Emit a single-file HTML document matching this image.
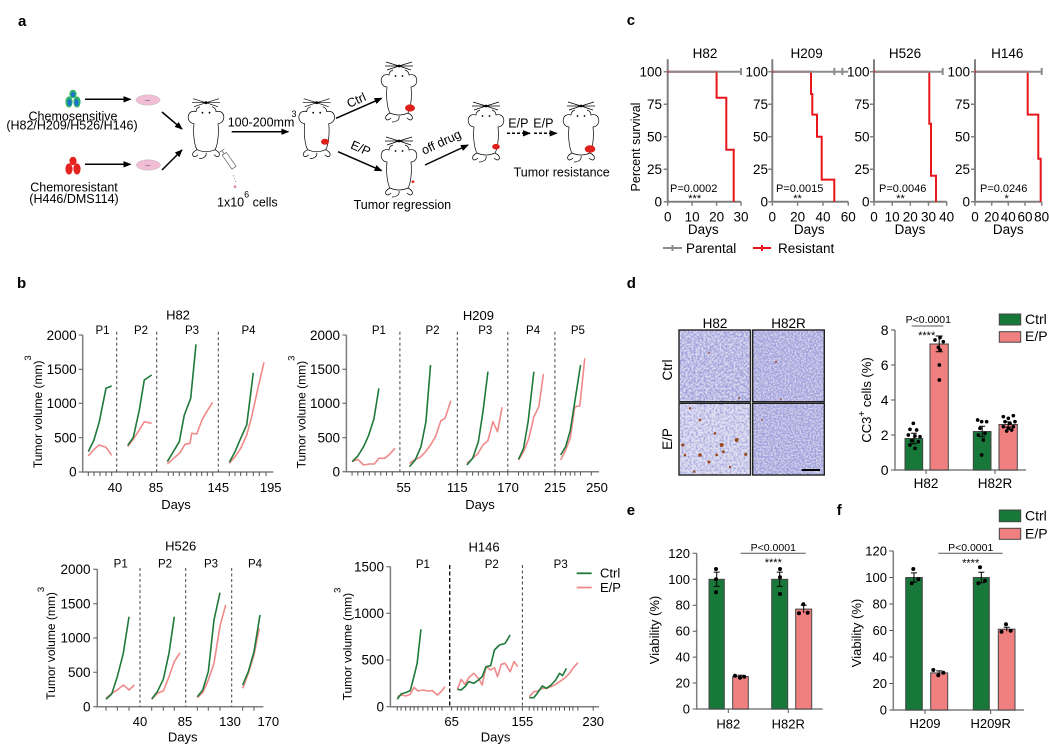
<!DOCTYPE html>
<html><head><meta charset="utf-8">
<style>
html,body{margin:0;padding:0;background:#fff;}
svg{display:block;font-family:"Liberation Sans",Arial,sans-serif;}
.ns *{vector-effect:non-scaling-stroke;}
.g{stroke:#1f7a3a;fill:none;stroke-width:1.6;stroke-linejoin:round}
.p{stroke:#f08a8a;fill:none;stroke-width:1.6;stroke-linejoin:round}
.ax{stroke:#7f7f7f;stroke-width:1.5;fill:none}
.cax{stroke:#808080;stroke-width:2;fill:none}
.tk{stroke:#555;stroke-width:1;fill:none}
.dash{stroke:#444;stroke-width:1;stroke-dasharray:3,2.5;fill:none}
.bar{stroke:#444;stroke-width:1}
.gr{fill:#18783a}
.pk{fill:#f08080}
.eb{stroke:#000;stroke-width:1;fill:none}
.m{fill:none;stroke:#000;stroke-width:0.7}
</style></head><body>
<svg width="1049" height="750" viewBox="0 0 1049 750">
<defs>
<marker id="ah" markerWidth="8" markerHeight="8" refX="7" refY="4" orient="auto" markerUnits="userSpaceOnUse"><path d="M0,0.8 L8,4 L0,7.2 Z" fill="#000"/></marker>
<g id="mouse">
 <path class="m" d="M0,0 L-13,-4 M0,0 L-14,0 M0,0 L-12,4 M0,0 L13,-4 M0,0 L14,0 M0,0 L12,4"/>
 <path class="m" d="M-6,4 C-9,5 -10,7 -10,9 C-19,6 -21,20 -12,21 C-13,30 -12,42 -9,47 Q0,51 9,47 C12,42 13,30 12,21 C21,20 19,6 10,9 C10,7 9,5 6,4"/>
 <path class="m" d="M-9,47 c-4,2 -6,5 -3,7 c2,0 3,-1 4,-2 M9,47 c4,2 6,5 3,7 c-2,0 -3,-1 -4,-2 M0,50 c1,4 -3,6 -7,6"/>
 <circle cx="0" cy="0" r="1.4" fill="#000"/>
 <circle cx="-3.5" cy="10" r="0.9" fill="#000"/>
 <circle cx="3.5" cy="10" r="0.9" fill="#000"/>
</g>
<filter id="tx1" x="0" y="0" width="1" height="1"><feTurbulence type="fractalNoise" baseFrequency="0.5" numOctaves="2" seed="4"/><feColorMatrix type="matrix" values="0 0 0 0 0.36  0 0 0 0 0.36  0 0 0 0 0.72  4.2 0 0 0 -1.6"/></filter>
<filter id="tx2" x="0" y="0" width="1" height="1"><feTurbulence type="fractalNoise" baseFrequency="0.6" numOctaves="2" seed="9"/><feColorMatrix type="matrix" values="0 0 0 0 0.36  0 0 0 0 0.36  0 0 0 0 0.72  4.4 0 0 0 -1.6"/></filter>
<filter id="tx3" x="0" y="0" width="1" height="1"><feTurbulence type="fractalNoise" baseFrequency="0.5" numOctaves="2" seed="17"/><feColorMatrix type="matrix" values="0 0 0 0 0.40  0 0 0 0 0.40  0 0 0 0 0.74  3.6 0 0 0 -1.5"/></filter>
<filter id="tx4" x="0" y="0" width="1" height="1"><feTurbulence type="fractalNoise" baseFrequency="0.6" numOctaves="2" seed="23"/><feColorMatrix type="matrix" values="0 0 0 0 0.36  0 0 0 0 0.36  0 0 0 0 0.72  4.4 0 0 0 -1.6"/></filter>
</defs>

<!-- ================= Panel a ================= -->
<text x="18" y="26" font-size="15" font-weight="bold">a</text>
<ellipse cx="73" cy="94" rx="3.6" ry="4.2" fill="#2db36b"/>
<ellipse cx="69" cy="102" rx="3.6" ry="5.6" fill="#2db36b"/>
<ellipse cx="77" cy="102" rx="3.6" ry="5.6" fill="#2db36b"/>
<ellipse cx="73" cy="94.5" rx="2" ry="2.5" fill="#1f6fd0"/>
<ellipse cx="69.5" cy="102.5" rx="2" ry="3.5" fill="#1f6fd0"/>
<ellipse cx="76.5" cy="102.5" rx="2" ry="3.5" fill="#1f6fd0"/>
<ellipse cx="73" cy="161" rx="3.6" ry="4.2" fill="#e5231f"/>
<ellipse cx="69" cy="169" rx="3.6" ry="5.6" fill="#e5231f"/>
<ellipse cx="77" cy="169" rx="3.6" ry="5.6" fill="#e5231f"/>
<text x="73" y="120.5" font-size="12.5" text-anchor="middle">Chemosensitive</text>
<text x="72" y="129.5" font-size="12.5" text-anchor="middle">(H82/H209/H526/H146)</text>
<text x="74" y="191.5" font-size="12.5" text-anchor="middle">Chemoresistant</text>
<text x="74" y="203" font-size="12.5" text-anchor="middle">(H446/DMS114)</text>
<g stroke="#000" stroke-width="1.5" fill="none" marker-end="url(#ah)">
<path d="M85,99.3 H130.5"/>
<path d="M85,164.3 H130.5"/>
<path d="M162,170 L182,150"/>
<path d="M162,112 L182,129"/>
<path d="M231.7,131.7 H288.3"/>
<path d="M336,118.3 L381.6,98.3"/>
<path d="M338,151.7 L381.6,170.7"/>
<path d="M425,165 L468,145"/>
</g>
<g stroke="#000" stroke-width="1.5" fill="none" stroke-dasharray="3,2" marker-end="url(#ah)">
<path d="M507,133.3 H530"/>
<path d="M534,133.3 H556.7"/>
</g>
<ellipse cx="148" cy="100" rx="12" ry="5.2" fill="#f1bdd4" stroke="#999" stroke-width="0.5" stroke-dasharray="1.5,1"/>
<path d="M145,100.5 h5" stroke="#666" stroke-width="0.6"/>
<ellipse cx="148.3" cy="165" rx="12" ry="5.2" fill="#f1bdd4" stroke="#999" stroke-width="0.5" stroke-dasharray="1.5,1"/>
<path d="M145.3,165.5 h5" stroke="#666" stroke-width="0.6"/>
<use href="#mouse" x="206" y="102.7"/>
<use href="#mouse" x="316.7" y="102.7"/>
<use href="#mouse" x="399" y="66"/>
<use href="#mouse" x="399" y="141"/>
<use href="#mouse" x="486" y="106"/>
<use href="#mouse" x="581" y="106"/>
<ellipse cx="325" cy="141.7" rx="4" ry="3" fill="#e0201a"/>
<ellipse cx="410" cy="108" rx="5" ry="3.6" fill="#e0201a"/>
<ellipse cx="413" cy="181.7" rx="1.5" ry="1.2" fill="#e0201a"/>
<ellipse cx="496" cy="146.7" rx="3.8" ry="2.8" fill="#e0201a"/>
<ellipse cx="590" cy="149" rx="5.3" ry="3.8" fill="#e0201a"/>
<g transform="translate(230,162) rotate(-35)">
<rect x="-2.5" y="-10" width="5" height="17" fill="none" stroke="#444" stroke-width="0.6"/>
<path d="M0,-10 v-4 M-3,-14 h6" stroke="#444" stroke-width="0.6"/>
</g>
<path d="M233,175 L236,183" stroke="#777" stroke-width="0.6" stroke-dasharray="1.5,1.5"/>
<circle cx="235" cy="186.7" r="1.4" fill="#e08aaa"/>
<text x="227.7" y="126.5" font-size="12.5">100-200mm</text>
<text x="291.5" y="117" font-size="9">3</text>
<text x="217" y="206.5" font-size="12.5">1x10<tspan dy="-9" font-size="9">6</tspan><tspan dy="9"> cells</tspan></text>
<text transform="translate(358,104) rotate(-24)" font-size="12.5" text-anchor="middle">Ctrl</text>
<text transform="translate(359,152) rotate(23.5)" font-size="12.5" text-anchor="middle">E/P</text>
<text transform="translate(443,146) rotate(-25)" font-size="12.5" text-anchor="middle">off drug</text>
<text x="402.4" y="209" font-size="12.5" text-anchor="middle">Tumor regression</text>
<text x="508.3" y="127.5" font-size="12.5">E/P</text>
<text x="533.3" y="127.5" font-size="12.5">E/P</text>
<text x="561.7" y="176.7" font-size="12.5" text-anchor="middle">Tumor resistance</text>

<!-- ================= Panel b ================= -->
<text x="17" y="288" font-size="15" font-weight="bold">b</text>

<!-- H82 -->
<text x="178" y="319.5" font-size="13" text-anchor="middle">H82</text>
<g font-size="11.5" text-anchor="middle">
<text x="102.5" y="334">P1</text><text x="141" y="334">P2</text><text x="192" y="334">P3</text><text x="248.5" y="334">P4</text>
</g>
<path class="ax" d="M82.7,335 V472 H273.3"/>
<path class="tk" d="M78.7,335h4M78.7,369.3h4M78.7,403.3h4M78.7,437.7h4M78.7,472h4"/>
<path class="tk" d="M88.3,472v4M94,472v4M100,472v4M106,472v4M111.7,472v4M127.7,472v4M133.3,472v4M139.3,472v4M145,472v4M151.7,472v4M168.3,472v4M173.3,472v4M179.3,472v4M185,472v4M190.7,472v4M196.7,472v4M201.7,472v4M207.3,472v4M212.7,472v4M229.3,472v4M235,472v4M240.7,472v4M246.7,472v4M253.3,472v4M259.3,472v4M266,472v4"/>
<g font-size="13.5" text-anchor="end">
<text x="76.7" y="339.8">2000</text><text x="76.7" y="374">1500</text><text x="76.7" y="408">1000</text><text x="76.7" y="442.4">500</text><text x="76.7" y="476.7">0</text>
</g>
<g font-size="13" text-anchor="middle">
<text x="115" y="492">40</text><text x="156" y="492">85</text><text x="218.3" y="492">145</text><text x="270.7" y="492">195</text>
<text x="176" y="509">Days</text>
</g>
<text transform="translate(42,411.7) rotate(-90)" font-size="12" text-anchor="middle">Tumor volume (mm)<tspan dy="-11" font-size="9.5">3</tspan></text>
<path class="dash" d="M116.7,331.7V472M156.7,331.7V472M218.3,331.7V472"/>
<polyline class="p" points="88.3,456 94,449.3 99.3,445 106,447.3 111.7,455.3"/>
<polyline class="g" points="88.3,451.7 94,440 99.3,421.7 106,388.3 111.7,386"/>
<polyline class="p" points="127.7,446.7 133.3,439.3 139.3,430 144.3,421.7 151.7,423.3"/>
<polyline class="g" points="127.7,445.3 133.3,437.3 139.3,410 144.3,380 151.7,375"/>
<polyline class="p" points="167.3,464 173.3,458.7 180,452.7 185,444.3 190,443.3 191.7,433.3 196.7,434 202.3,419.3 207.3,410.7 212.7,402.3"/>
<polyline class="g" points="167.3,461.7 173.3,451.7 179.3,441.7 184.3,415 190.7,398.3 196,344.3"/>
<polyline class="p" points="229.3,463.3 235,456.7 240.7,448.3 246.7,435 251.7,416.7 258.3,386.7 264,362.3"/>
<polyline class="g" points="229.3,462.3 235,451.7 240.7,438.3 246.7,425 253.3,372.7"/>

<!-- H209 -->
<text x="478.4" y="320" font-size="13" text-anchor="middle">H209</text>
<g font-size="11.5" text-anchor="middle">
<text x="378.9" y="334">P1</text><text x="432.5" y="334">P2</text><text x="485.3" y="334">P3</text><text x="533.1" y="334">P4</text><text x="577.9" y="334">P5</text>
</g>
<path class="ax" d="M346.4,335 V471.7 H599"/>
<path class="tk" d="M342.4,335h4M342.4,369.3h4M342.4,403.3h4M342.4,437.7h4M342.4,471.7h4"/>
<g font-size="13.5" text-anchor="end">
<text x="340" y="339.8">2000</text><text x="340" y="374">1500</text><text x="340" y="408">1000</text><text x="340" y="442.4">500</text><text x="340" y="476.4">0</text>
</g>
<g font-size="13" text-anchor="middle">
<text x="403.7" y="492">55</text><text x="457.3" y="492">115</text><text x="508" y="492">170</text><text x="555" y="492">215</text><text x="597" y="492">250</text>
<text x="480" y="509">Days</text>
</g>
<text transform="translate(305.5,412) rotate(-90)" font-size="12" text-anchor="middle">Tumor volume (mm)<tspan dy="-11" font-size="9.5">3</tspan></text>
<path class="dash" d="M399.9,331.7V471.7M457.3,331.7V471.7M507.8,331.7V471.7M554.9,331.7V471.7"/>

<g class="ns" transform="translate(0,270) scale(0.3827,0.33333)">
<path class="tk" d="M920,605v12M935,605v12M950,605v12M965,605v12M980,605v12M995,605v12M1010,605v12M1025,605v12M1055,605v12M1070,605v12M1085,605v12M1100,605v12M1113,605v12M1125,605v12M1140,605v12M1155,605v12M1170,605v12M1195,605v12M1220,605v12M1235,605v12M1250,605v12M1262,605v12M1275,605v12M1290,605v12M1305,605v12M1327,605v12M1355,605v12M1368,605v12M1380,605v12M1395,605v12M1408,605v12M1420,605v12M1450,605v12M1465,605v12M1478,605v12M1490,605v12M1502,605v12M1517,605v12M1545,605v12"/>
<polyline class="p" points="920,575 935,568 950,585 965,582 978,582 990,565 1005,565 1018,553 1032,535"/>
<polyline class="g" points="920,575 935,558 950,530 963,497 977,447 990,355"/>
<polyline class="p" points="1070,580 1085,568 1098,562 1112,545 1125,525 1138,500 1152,452 1163,445 1178,392"/>
<polyline class="g" points="1070,590 1085,570 1100,530 1113,455 1125,285"/>
<polyline class="p" points="1220,580 1235,565 1248,552 1262,525 1275,512 1288,455 1300,485 1312,412"/>
<polyline class="g" points="1220,585 1235,565 1250,515 1262,425 1275,305"/>
<polyline class="p" points="1355,570 1368,545 1382,505 1395,440 1408,410 1420,312"/>
<polyline class="g" points="1355,568 1368,535 1380,455 1395,305"/>
<polyline class="p" points="1465,570 1478,540 1490,505 1502,410 1515,408 1528,265"/>
<polyline class="g" points="1465,555 1478,530 1490,482 1502,395 1517,285"/>
</g>

<!-- H526 -->
<text x="180.7" y="550.7" font-size="13" text-anchor="middle">H526</text>
<g font-size="11.5" text-anchor="middle">
<text x="120.7" y="567.3">P1</text><text x="165" y="567.3">P2</text><text x="211" y="567.3">P3</text><text x="255" y="567.3">P4</text>
</g>
<path class="ax" d="M97.3,569.3 V706.7 H263.3"/>
<path class="tk" d="M93.3,569.3h4M93.3,603.7h4M93.3,638h4M93.3,672.3h4M93.3,706.7h4"/>
<path class="tk" d="M106,706.7v4M117.3,706.7v4M129,706.7v4M151.7,706.7v4M163.3,706.7v4M174.3,706.7v4M197.3,706.7v4M208.3,706.7v4M220,706.7v4M242.7,706.7v4M254,706.7v4"/>
<g font-size="13.5" text-anchor="end">
<text x="90.5" y="574">2000</text><text x="90.5" y="608.4">1500</text><text x="90.5" y="642.7">1000</text><text x="90.5" y="677">500</text><text x="90.5" y="711.4">0</text>
</g>
<g font-size="13" text-anchor="middle">
<text x="140" y="726">40</text><text x="185" y="726">85</text><text x="230" y="726">130</text><text x="268.3" y="726">170</text>
<text x="182.7" y="741.5">Days</text>
</g>
<text transform="translate(55,643.3) rotate(-90)" font-size="12" text-anchor="middle">Tumor volume (mm)<tspan dy="-11" font-size="9.5">3</tspan></text>
<path class="dash" d="M140,568V706.7M185.7,568V706.7M231.7,568V706.7"/>
<polyline class="p" points="106,698.3 111.7,693.3 117.3,690 123.3,685 129,690 134.3,685"/>
<polyline class="g" points="106,699.3 111.7,694 117.3,676.7 123.3,653.3 129,616.7"/>
<polyline class="p" points="151.7,699.3 157.3,693.3 163.3,691 169,676.7 174.3,661.7 180,652.7"/>
<polyline class="g" points="151.7,699 157.3,691.7 163.3,679.3 169,653.3 174.3,616.7"/>
<polyline class="p" points="197.3,697.7 202.7,692.7 208.3,680 214,663.3 220,626 225.7,605"/>
<polyline class="g" points="197.3,696.7 202.7,690 208.3,671.7 214,620 220,592.7"/>
<polyline class="p" points="242.7,688.3 248.3,673.3 254,655 259.3,628.3"/>
<polyline class="g" points="242.7,685 248.3,671.7 254,651.7 260,615"/>

<!-- H146 -->
<text x="484.1" y="551.5" font-size="13" text-anchor="middle">H146</text>
<g font-size="11.5" text-anchor="middle">
<text x="422.9" y="568">P1</text><text x="491.8" y="568">P2</text><text x="560.7" y="568">P3</text>
</g>
<path class="ax" d="M390.4,566.7 V706.7 H599"/>
<path class="tk" d="M386.4,566.7h4M386.4,613.3h4M386.4,660h4M386.4,706.7h4"/>
<g font-size="13.5" text-anchor="end">
<text x="384" y="571.4">1500</text><text x="384" y="618">1000</text><text x="384" y="664.7">500</text><text x="384" y="711.4">0</text>
</g>
<g font-size="13" text-anchor="middle">
<text x="451.6" y="726">65</text><text x="522.4" y="726">155</text><text x="593.2" y="726">230</text>
<text x="495.6" y="741.5">Days</text>
</g>
<text transform="translate(351.5,644) rotate(-90)" font-size="12" text-anchor="middle">Tumor volume (mm)<tspan dy="-11" font-size="9.5">3</tspan></text>
<path d="M449.7,565V706.7" stroke="#000" stroke-width="1.3" stroke-dasharray="4,2.5"/>
<path class="dash" d="M522.4,565V706.7"/>

<g class="ns" transform="translate(0,500) scale(0.3827,0.33333)">
<path class="tk" d="M1038,620v12M1048,620v12M1060,620v12M1072,620v12M1082,620v12M1092,620v12M1105,620v12M1118,620v12M1130,620v12M1143,620v12M1155,620v12M1180,620v12M1195,620v12M1205,620v12M1215,620v12M1225,620v12M1238,620v12M1250,620v12M1260,620v12M1270,620v12M1282,620v12M1292,620v12M1305,620v12M1320,620v12M1333,620v12M1343,620v12M1365,620v12M1383,620v12M1395,620v12M1405,620v12M1417,620v12M1428,620v12M1440,620v12M1452,620v12M1462,620v12M1475,620v12M1488,620v12M1497,620v12M1510,620v12M1550,620v12"/>
<polyline class="p" points="1038,590 1048,585 1060,588 1072,583 1082,562 1092,573 1105,570 1118,573 1130,572 1143,585 1155,572 1163,560"/>
<polyline class="g" points="1038,598 1048,582 1060,578 1072,572 1082,528 1090,490 1100,388"/>
<polyline class="p" points="1195,568 1205,538 1215,553 1225,533 1238,520 1250,535 1260,555 1270,500 1282,510 1292,503 1300,530 1310,493 1320,490 1333,515 1343,485 1353,500"/>
<polyline class="g" points="1195,568 1205,570 1215,560 1225,545 1238,550 1250,540 1260,530 1270,500 1282,497 1292,450 1305,435 1320,430 1333,405"/>
<polyline class="p" points="1383,590 1395,575 1405,573 1417,565 1428,565 1440,560 1452,553 1462,545 1475,535 1488,520 1497,505 1510,488"/>
<polyline class="g" points="1383,593 1395,593 1405,578 1417,558 1428,565 1440,555 1452,540 1462,520 1470,527 1480,505"/>
</g>
<path d="M576.7,573.3H591.7" stroke="#1f7a3a" stroke-width="1.8"/>
<path d="M576.7,587.5H591.7" stroke="#f08a8a" stroke-width="1.8"/>
<text x="600" y="577.5" font-size="13">Ctrl</text>
<text x="600" y="592" font-size="13">E/P</text>

<!-- ================= Panel c ================= -->
<text x="626.7" y="25" font-size="15" font-weight="bold">c</text>
<g font-size="13.5" text-anchor="middle">
<text x="705" y="58">H82</text><text x="806.7" y="58">H209</text><text x="905" y="58">H526</text><text x="1007.3" y="58">H146</text>
</g>
<text transform="translate(640,147) rotate(-90)" font-size="12.5" text-anchor="middle">Percent survival</text>
<path class="cax" d="M667.7,59.3V201.7H741"/>
<path class="cax" d="M772.3,59.3V201.7H848.3"/>
<path class="cax" d="M874,59.3V201.7H946.7"/>
<path class="cax" d="M975,59.3V201.7H1041.7"/>
<g stroke="#808080" stroke-width="1.5">
<path d="M663.7,201.7h4M663.7,169.2h4M663.7,136.7h4M663.7,104.2h4M663.7,71.7h4 M667.7,201.7v4M692.1,201.7v4M716.6,201.7v4M741,201.7v4"/>
<path d="M768.3,201.7h4M768.3,169.2h4M768.3,136.7h4M768.3,104.2h4M768.3,71.7h4 M772.3,201.7v4M797.6,201.7v4M823,201.7v4M848.3,201.7v4"/>
<path d="M870,201.7h4M870,169.2h4M870,136.7h4M870,104.2h4M870,71.7h4 M874,201.7v4M892.2,201.7v4M910.3,201.7v4M928.5,201.7v4M946.7,201.7v4"/>
<path d="M971,201.7h4M971,169.2h4M971,136.7h4M971,104.2h4M971,71.7h4 M975,201.7v4M991.7,201.7v4M1008.3,201.7v4M1025,201.7v4M1041.7,201.7v4"/>
</g>
<g font-size="13.5" text-anchor="end">
<text x="662" y="206.5">0</text><text x="662" y="174">25</text><text x="662" y="141.5">50</text><text x="662" y="109">75</text><text x="662" y="76.5">100</text>
<text x="768" y="206.5">0</text><text x="768" y="174">25</text><text x="768" y="141.5">50</text><text x="768" y="109">75</text><text x="768" y="76.5">100</text>
<text x="869.5" y="206.5">0</text><text x="869.5" y="174">25</text><text x="869.5" y="141.5">50</text><text x="869.5" y="109">75</text><text x="869.5" y="76.5">100</text>
<text x="970" y="206.5">0</text><text x="970" y="174">25</text><text x="970" y="141.5">50</text><text x="970" y="109">75</text><text x="970" y="76.5">100</text>
</g>
<g font-size="13.5" text-anchor="middle">
<text x="667.7" y="221.5">0</text><text x="692.1" y="221.5">10</text><text x="716.6" y="221.5">20</text><text x="741" y="221.5">30</text>
<text x="772.3" y="221.5">0</text><text x="797.6" y="221.5">20</text><text x="823" y="221.5">40</text><text x="848.3" y="221.5">60</text>
<text x="874" y="221.5">0</text><text x="892.2" y="221.5">10</text><text x="910.3" y="221.5">20</text><text x="928.5" y="221.5">30</text><text x="946.7" y="221.5">40</text>
<text x="975" y="221.5">0</text><text x="991.7" y="221.5">20</text><text x="1008.3" y="221.5">40</text><text x="1025" y="221.5">60</text><text x="1041.7" y="221.5">80</text>
<text x="703.3" y="234">Days</text><text x="809.3" y="234">Days</text><text x="910" y="234">Days</text><text x="1008.3" y="234">Days</text>
</g>
<g fill="none" stroke="#e8161b" stroke-width="2">
<path d="M667.7,71.7H716.6V97.7H726.3V149.7H733.7V201.7"/>
<path d="M772.3,71.7H811V94H812.3V114.6H817V136.7H821.7V179.6H834.3V201.7"/>
<path d="M874,71.7H929.3V123.7H931V175.7H936V201.7"/>
<path d="M975,71.7H1027.7V114.6H1038.3V158.8H1040.7V201.7"/>
</g>
<g fill="none" stroke="#8c8c8c" stroke-width="2">
<path d="M668.7,71.7H716M716.6,71.7H741 M741,68v7"/>
<path d="M773.3,71.7H848.3 M834.3,68v7 M842.3,68v7"/>
<path d="M875,71.7H942.7 M942.7,68v7"/>
<path d="M976,71.7H1041.7 M1041.7,68v7"/>
</g>
<g font-size="11">
<text x="670" y="192">P=0.0002</text><text x="776" y="192">P=0.0015</text><text x="879" y="192">P=0.0046</text><text x="980" y="192">P=0.0246</text>
</g>
<g font-size="11" text-anchor="middle">
<text x="694.7" y="202">***</text><text x="797.5" y="202">**</text><text x="900.5" y="202">**</text><text x="1006.7" y="202">*</text>
</g>
<path d="M663,248H682 M672.5,245v6" stroke="#8c8c8c" stroke-width="2"/>
<text x="686" y="253" font-size="13.5">Parental</text>
<path d="M753,248H771 M762,245v6" stroke="#e8161b" stroke-width="2"/>
<text x="778" y="253" font-size="13.5">Resistant</text>

<!-- ================= Panel d ================= -->
<text x="626.7" y="288" font-size="15" font-weight="bold">d</text>
<g font-size="13.5" text-anchor="middle">
<text x="715" y="328">H82</text><text x="788.5" y="328">H82R</text>
</g>
<text transform="translate(672,370) rotate(-90)" font-size="13.5" text-anchor="middle">Ctrl</text>
<text transform="translate(672,439) rotate(-90)" font-size="13.5" text-anchor="middle">E/P</text>
<rect x="679" y="330" width="71.5" height="71.7" fill="#d8d8ef"/>
<rect x="679" y="330" width="71.5" height="71.7" filter="url(#tx1)"/>
<rect x="752.7" y="330" width="71.6" height="71.7" fill="#d2d2ec"/>
<rect x="752.7" y="330" width="71.6" height="71.7" filter="url(#tx2)"/>
<rect x="679" y="403.3" width="71.5" height="71.7" fill="#e0e0f2"/>
<rect x="679" y="403.3" width="71.5" height="71.7" filter="url(#tx3)"/>
<rect x="752.7" y="403.3" width="71.6" height="71.7" fill="#d2d2ec"/>
<rect x="752.7" y="403.3" width="71.6" height="71.7" filter="url(#tx4)"/>
<g fill="none" stroke="#222" stroke-width="1.4">
<rect x="679" y="330" width="71.5" height="71.7"/>
<rect x="752.7" y="330" width="71.6" height="71.7"/>
<rect x="679" y="403.3" width="71.5" height="71.7"/>
<rect x="752.7" y="403.3" width="71.6" height="71.7"/>
</g>
<g fill="#9a4a22">
<circle cx="682.7" cy="445" r="1.6"/><circle cx="685" cy="455" r="1.3"/><circle cx="700" cy="455" r="1.8"/><circle cx="715" cy="433.3" r="1.3"/><circle cx="721.7" cy="445" r="2"/><circle cx="723.3" cy="451.7" r="1.5"/><circle cx="736.7" cy="440" r="2"/><circle cx="745.7" cy="454.3" r="1.6"/><circle cx="694.3" cy="471.7" r="1.2"/><circle cx="716.7" cy="455" r="1.4"/><circle cx="690" cy="408.3" r="1.2"/><circle cx="700" cy="420" r="1.3"/><circle cx="709" cy="462" r="1.5"/><circle cx="730" cy="467" r="1.2"/>
<circle cx="709" cy="353" r="0.9"/><circle cx="739" cy="398" r="1"/><circle cx="776" cy="362" r="1"/><circle cx="781" cy="399" r="0.8"/><circle cx="762" cy="420" r="0.9"/>
</g>
<path d="M801.7,470H820" stroke="#000" stroke-width="2"/>
<path class="ax" d="M895,330V470H1026"/>
<path class="tk" d="M891,330h4M891,365h4M891,400h4M891,435h4M891,470h4 M926,470v4M995,470v4"/>
<g font-size="14" text-anchor="end">
<text x="888.5" y="335">8</text><text x="888.5" y="370">6</text><text x="888.5" y="405">4</text><text x="888.5" y="440">2</text><text x="888.5" y="475">0</text>
</g>
<g font-size="13.5" text-anchor="middle">
<text x="926" y="488">H82</text><text x="995" y="488">H82R</text>
</g>
<text transform="translate(871,400) rotate(-90)" font-size="13" text-anchor="middle">CC3<tspan dy="-6" font-size="10">+</tspan><tspan dy="6"> cells (%)</tspan></text>
<rect class="bar gr" x="905" y="438.5" width="17.7" height="31.5"/>
<rect class="bar pk" x="930" y="344" width="18.3" height="126"/>
<rect class="bar gr" x="973.3" y="431.5" width="17.7" height="38.5"/>
<rect class="bar pk" x="999" y="424.5" width="18.3" height="45.5"/>
<g class="eb">
<path d="M913.9,443.8V433.3M910.9,433.3h6M910.9,443.8h6"/>
<path d="M939.2,351.7V336M935.7,336h7M935.7,351.7h7"/>
<path d="M982.2,436.8V426.3M979.2,426.3h6M979.2,436.8h6"/>
<path d="M1008.2,427.1V421.9M1005.2,421.9h6M1005.2,427.1h6"/>
</g>
<g fill="#000" transform="translate(600,270) scale(0.33333)">
<circle cx="940" cy="460" r="5.5"/><circle cx="930" cy="478" r="5.5"/><circle cx="950" cy="480" r="5.5"/><circle cx="925" cy="495" r="5.5"/><circle cx="945" cy="498" r="5.5"/><circle cx="960" cy="500" r="5.5"/><circle cx="935" cy="512" r="5.5"/><circle cx="955" cy="515" r="5.5"/><circle cx="930" cy="525" r="5.5"/><circle cx="945" cy="535" r="5.5"/>
<circle cx="1005" cy="210" r="5.5"/><circle cx="1020" cy="203" r="5.5"/><circle cx="1030" cy="215" r="5.5"/><circle cx="1015" cy="232" r="5.5"/><circle cx="1020" cy="240" r="5.5"/><circle cx="1018" cy="285" r="5.5"/><circle cx="1018" cy="330" r="5.5"/>
<circle cx="1133" cy="450" r="5.5"/><circle cx="1145" cy="455" r="5.5"/><circle cx="1160" cy="455" r="5.5"/><circle cx="1140" cy="475" r="5.5"/><circle cx="1155" cy="490" r="5.5"/><circle cx="1135" cy="495" r="5.5"/><circle cx="1150" cy="510" r="5.5"/><circle cx="1145" cy="555" r="5.5"/>
<circle cx="1210" cy="440" r="5.5"/><circle cx="1225" cy="445" r="5.5"/><circle cx="1240" cy="437" r="5.5"/><circle cx="1215" cy="455" r="5.5"/><circle cx="1230" cy="460" r="5.5"/><circle cx="1245" cy="455" r="5.5"/><circle cx="1210" cy="470" r="5.5"/><circle cx="1225" cy="475" r="5.5"/><circle cx="1240" cy="470" r="5.5"/><circle cx="1220" cy="483" r="5.5"/><circle cx="1235" cy="480" r="5.5"/>
</g>
<text x="928.3" y="323" font-size="10.5" text-anchor="middle">P&lt;0.0001</text>
<path d="M911.7,326H943.3" stroke="#555" stroke-width="1"/>
<text x="926.7" y="339" font-size="11" text-anchor="middle">****</text>
<rect class="bar gr" x="999.3" y="314" width="21.4" height="11"/>
<rect class="bar pk" x="999.3" y="331.7" width="21.4" height="10.5"/>
<text x="1025" y="324" font-size="14">Ctrl</text>
<text x="1025" y="341" font-size="14">E/P</text>

<!-- ================= Panel e ================= -->
<text x="626.7" y="515" font-size="15" font-weight="bold">e</text>
<path class="ax" d="M696.7,553.3V709H822.7"/>
<path class="tk" d="M692.7,709h4M692.7,683h4M692.7,657.1h4M692.7,631.2h4M692.7,605.2h4M692.7,579.3h4M692.7,553.3h4 M728.3,709v4M788.3,709v4"/>
<g font-size="13" text-anchor="end">
<text x="690" y="713.5">0</text><text x="690" y="687.5">20</text><text x="690" y="661.6">40</text><text x="690" y="635.7">60</text><text x="690" y="609.7">80</text><text x="690" y="583.8">100</text><text x="690" y="557.8">120</text>
</g>
<g font-size="13" text-anchor="middle">
<text x="728.3" y="728.5">H82</text><text x="788.3" y="728.5">H82R</text>
</g>
<text transform="translate(659,630) rotate(-90)" font-size="13" text-anchor="middle">Viability (%)</text>
<rect class="bar gr" x="709" y="579.3" width="15.3" height="129.7"/>
<rect class="bar pk" x="732.7" y="676.6" width="15.6" height="32.4"/>
<rect class="bar gr" x="771.7" y="579.3" width="16" height="129.7"/>
<rect class="bar pk" x="795.7" y="609.1" width="16" height="99.9"/>
<g class="eb">
<path d="M716.7,572.1V586.4M713.7,572.1h6M713.7,586.4h6"/>
<path d="M740.5,675.3V677.9M737.5,675.3h6"/>
<path d="M779.7,572.1V586.4M776.7,572.1h6M776.7,586.4h6"/>
<path d="M803.7,605.2V613M800.7,605.2h6"/>
</g>
<g fill="#000">
<circle cx="716" cy="569" r="2"/><circle cx="716" cy="579.3" r="2"/><circle cx="716" cy="592.3" r="2"/>
<circle cx="735" cy="675.7" r="2"/><circle cx="740" cy="677.7" r="2"/><circle cx="744.3" cy="676.7" r="2"/>
<circle cx="780" cy="569" r="2"/><circle cx="780" cy="577.3" r="2"/><circle cx="780" cy="594" r="2"/>
<circle cx="799" cy="613.3" r="2"/><circle cx="803.3" cy="604.3" r="2"/><circle cx="807.7" cy="612.7" r="2"/>
</g>
<text x="773.3" y="551" font-size="10.5" text-anchor="middle">P&lt;0.0001</text>
<path d="M740.7,553.3H805.7" stroke="#555" stroke-width="1"/>
<text x="773.3" y="566" font-size="11" text-anchor="middle">****</text>

<!-- ================= Panel f ================= -->
<text x="836.7" y="515" font-size="15" font-weight="bold">f</text>
<path class="ax" d="M893.3,551V710H1024"/>
<path class="tk" d="M889.3,710h4M889.3,683.5h4M889.3,657h4M889.3,630.5h4M889.3,604h4M889.3,577.5h4M889.3,551h4 M925,710v4M990.7,710v4"/>
<g font-size="13" text-anchor="end">
<text x="887" y="714.5">0</text><text x="887" y="688">20</text><text x="887" y="661.5">40</text><text x="887" y="635">60</text><text x="887" y="608.5">80</text><text x="887" y="582">100</text><text x="887" y="555.5">120</text>
</g>
<g font-size="13" text-anchor="middle">
<text x="925" y="728">H209</text><text x="990.7" y="728">H209R</text>
</g>
<text transform="translate(861,633) rotate(-90)" font-size="13" text-anchor="middle">Viability (%)</text>
<rect class="bar gr" x="905.7" y="577.5" width="16.6" height="132.5"/>
<rect class="bar pk" x="930.7" y="672.9" width="17" height="37.1"/>
<rect class="bar gr" x="973.3" y="577.5" width="16" height="132.5"/>
<rect class="bar pk" x="998.3" y="629.2" width="16.7" height="80.8"/>
<g class="eb">
<path d="M914,572.9V582.1M911,572.9h6M911,582.1h6"/>
<path d="M939.2,670.9V674.9M936.2,670.9h6"/>
<path d="M981.3,572.2V582.8M978.3,572.2h6M978.3,582.8h6"/>
<path d="M1006.7,627.2V631.2M1003.7,627.2h6"/>
</g>
<g fill="#000">
<circle cx="913.3" cy="569" r="2"/><circle cx="911.7" cy="583.3" r="2"/><circle cx="918.3" cy="579.3" r="2"/>
<circle cx="933.3" cy="670" r="2"/><circle cx="938.3" cy="675.3" r="2"/><circle cx="943.3" cy="672.7" r="2"/>
<circle cx="980" cy="567.3" r="2"/><circle cx="978.3" cy="583.3" r="2"/><circle cx="985" cy="580.7" r="2"/>
<circle cx="1001.5" cy="631.7" r="2"/><circle cx="1006" cy="624.3" r="2"/><circle cx="1010.7" cy="630.7" r="2"/>
</g>
<text x="970.7" y="551" font-size="10.5" text-anchor="middle">P&lt;0.0001</text>
<path d="M938.3,553.3H1002.7" stroke="#555" stroke-width="1"/>
<text x="970.7" y="566.5" font-size="11" text-anchor="middle">****</text>
<rect class="bar gr" x="999.3" y="510" width="21.4" height="11.7"/>
<rect class="bar pk" x="999.3" y="528.3" width="21.4" height="11"/>
<text x="1025" y="520.5" font-size="14">Ctrl</text>
<text x="1025" y="538.5" font-size="14">E/P</text>
</svg>
</body></html>
